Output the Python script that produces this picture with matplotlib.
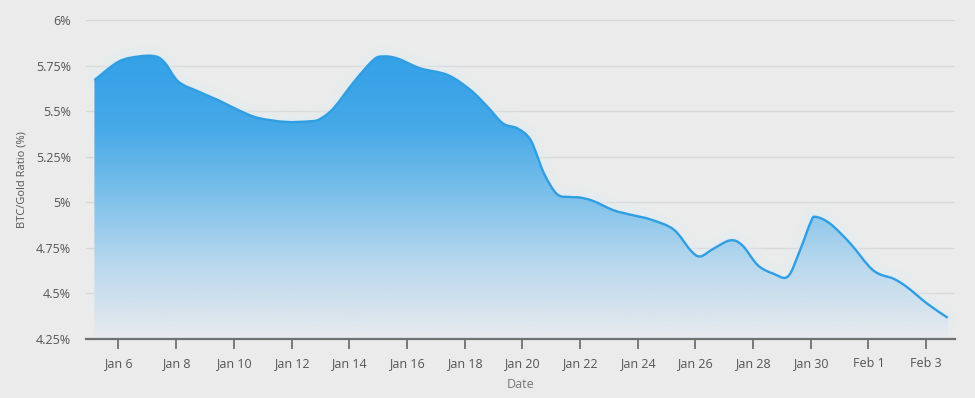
import numpy as np
import pandas as pd
import matplotlib
matplotlib.use('Agg')
import matplotlib.pyplot as plt
import matplotlib.dates as mdates
from matplotlib.path import Path
from matplotlib.patches import PathPatch
from matplotlib.colors import LinearSegmentedColormap

plt.rcParams['font.family'] = ['Open Sans', 'DejaVu Sans']

# values
dates = ['2026-01-05 04:00', '2026-01-06 00:00', '2026-01-06 17:00', '2026-01-07 07:00',
         '2026-01-07 15:00', '2026-01-08 02:00', '2026-01-08 19:00', '2026-01-09 11:00',
         '2026-01-10 04:00', '2026-01-10 20:00', '2026-01-11 19:00', '2026-01-12 17:00',
         '2026-01-13 00:00', '2026-01-13 11:00', '2026-01-14 04:00', '2026-01-14 20:00',
         '2026-01-15 04:00', '2026-01-15 16:00', '2026-01-16 11:00', '2026-01-17 10:00',
         '2026-01-18 05:00', '2026-01-18 19:00', '2026-01-19 08:00', '2026-01-19 20:00',
         '2026-01-20 07:00', '2026-01-20 18:00', '2026-01-21 05:00', '2026-01-21 16:00',
         '2026-01-22 00:00', '2026-01-22 11:00', '2026-01-23 04:00', '2026-01-23 18:00',
         '2026-01-24 11:00', '2026-01-25 06:00', '2026-01-25 20:00', '2026-01-26 04:00',
         '2026-01-26 15:00', '2026-01-27 05:00', '2026-01-27 15:00', '2026-01-28 04:00',
         '2026-01-28 17:00', '2026-01-29 05:00', '2026-01-29 15:00', '2026-01-30 00:00',
         '2026-01-30 04:00', '2026-01-30 16:00', '2026-01-31 09:00', '2026-02-01 04:00',
         '2026-02-01 21:00', '2026-02-02 08:00', '2026-02-03 01:00', '2026-02-03 18:00']
ratio = [5.670, 5.771, 5.800, 5.800, 5.762, 5.661, 5.606, 5.560,
         5.505, 5.463, 5.441, 5.445, 5.458, 5.516, 5.661, 5.780,
         5.800, 5.789, 5.735, 5.698, 5.615, 5.524, 5.432, 5.405,
         5.340, 5.159, 5.044, 5.029, 5.026, 5.007, 4.956, 4.932,
         4.905, 4.850, 4.736, 4.703, 4.745, 4.791, 4.764, 4.654,
         4.608, 4.593, 4.736, 4.892, 4.920, 4.883, 4.773, 4.626,
         4.580, 4.535, 4.443, 4.366]

y_ticks = [4.25, 4.5, 4.75, 5, 5.25, 5.5, 5.75, 6]
y_labels = ['4.25%', '4.5%', '4.75%', '5%', '5.25%', '5.5%', '5.75%', '6%']

bg = '#ebebeb'
line_col = '#2f9ee3'

x = mdates.date2num(pd.to_datetime(dates))
y = np.array(ratio)
ymin, ymax = 4.25, 6.0


def spline(xs, ys):
    # catmull-rom style bezier through the points, like the original spline series
    verts = [(xs[0], ys[0])]
    codes = [Path.MOVETO]
    n = len(xs)
    for i in range(n - 1):
        xa, ya = (xs[i - 1], ys[i - 1]) if i > 0 else (xs[i], ys[i])
        xb, yb = (xs[i + 2], ys[i + 2]) if i < n - 2 else (xs[i + 1], ys[i + 1])
        c1 = (xs[i] + (xs[i + 1] - xa) / 6, ys[i] + (ys[i + 1] - ya) / 6)
        c2 = (xs[i + 1] - (xb - xs[i]) / 6, ys[i + 1] - (yb - ys[i]) / 6)
        verts += [c1, c2, (xs[i + 1], ys[i + 1])]
        codes += [Path.CURVE4] * 3
    return verts, codes


fig = plt.figure(figsize=(9.75, 3.98), dpi=100, facecolor=bg)
ax = fig.add_axes([0.0882, 0.1483, 0.8913, 0.8015])
ax.set_facecolor(bg)

x_left = mdates.date2num(pd.Timestamp('2026-01-04 21:00'))
x_right = mdates.date2num(pd.Timestamp('2026-02-04 00:00'))
ax.set_xlim(x_left, x_right)
ax.set_ylim(ymin, ymax)

verts, codes = spline(x, y)
line_path = Path(verts, codes)

# soft glow around the curve
for lw, a in [(22, 0.10), (15, 0.14), (9, 0.2), (5, 0.25)]:
    ax.add_patch(PathPatch(line_path, facecolor='none', edgecolor='#e2ecf4',
                           lw=lw, alpha=a, capstyle='round', joinstyle='round', zorder=1))

fill_verts = verts + [(x[-1], ymin), (x[0], ymin), (x[0], y[0])]
fill_codes = codes + [Path.LINETO, Path.LINETO, Path.CLOSEPOLY]
fill_patch = PathPatch(Path(fill_verts, fill_codes), facecolor='none', edgecolor='none')
ax.add_patch(fill_patch)

cmap = LinearSegmentedColormap.from_list('fade', ['#e8ebee', '#bcd9ee', '#7ec1ea', '#46a9e8', '#34a1e7'])
grad = np.linspace(0, 1, 256).reshape(-1, 1)
img = ax.imshow(grad, cmap=cmap, aspect='auto', origin='lower',
                extent=[x_left, x_right, ymin, 5.8], zorder=2, interpolation='bicubic')
img.set_clip_path(fill_patch)

ax.add_patch(PathPatch(line_path, facecolor='none', edgecolor=line_col, lw=1.7, zorder=3))

ax.set_yticks(y_ticks)
ax.set_yticklabels(y_labels)
ax.grid(axis='y', color='#d8d8d8', lw=1)
ax.set_axisbelow(True)

tick_dates = pd.date_range('2026-01-06', '2026-02-03', freq='2D')
ax.set_xticks(mdates.date2num(tick_dates))
ax.set_xticklabels([d.strftime('%b ') + str(d.day) for d in tick_dates])

for s in ['top', 'right', 'left']:
    ax.spines[s].set_visible(False)
ax.spines['bottom'].set_color('#707070')
ax.spines['bottom'].set_linewidth(1.6)
ax.spines['bottom'].set_zorder(4)

ax.tick_params(axis='y', length=0, pad=11, labelsize=9, labelcolor='#555555')
ax.tick_params(axis='x', length=7, width=1.2, color='#666666', pad=6,
               labelsize=9, labelcolor='#555555')

ax.set_xlabel('Date', fontsize=9, color='#777777', labelpad=6)
ax.set_ylabel('BTC/Gold Ratio (%)', fontsize=8, color='#555555', labelpad=6)

fig.savefig('out.png', dpi=100, facecolor=bg)
